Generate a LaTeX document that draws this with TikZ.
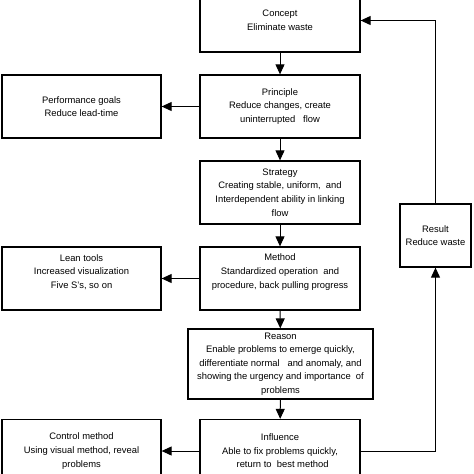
\documentclass[tikz,border=0pt]{standalone}
\usepackage{fontspec}
\setmainfont{Liberation Sans}
\usetikzlibrary{arrows.meta}
\newcommand{\fs}{\fontsize{9.4pt}{13.6pt}\selectfont}
\tikzset{
  box/.style={draw, line width=1.3pt, minimum width=160pt, minimum height=63pt, inner sep=0pt, align=center, font=\fs},
  txt/.style={inner sep=0pt, align=center, font=\fs},
  arr/.style={line width=1pt, -{Triangle[length=10pt,width=9pt]}}
}
\begin{document}
\begin{tikzpicture}[x=1pt,y=-1pt]
\useasboundingbox (0,0) rectangle (474,474);
\clip (0,0) rectangle (474,474);
\fill[white] (0,0) rectangle (474,474);
\node[box] (concept) at (280,20.5) {Concept\\Eliminate waste};
\node[box] (principle) at (280,106.5) {Principle\\Reduce changes, create\\uninterrupted\ \ \ flow};
\node[box, minimum width=159pt] (perf) at (81.5,106.5) {Performance goals\\Reduce lead-time};
\node[box] (strategy) at (280,192.5) {Strategy\\Creating stable, uniform,\ \ and\\Interdependent ability in linking\\flow};
\node[box] (method) at (280,278.5) {};
\node[txt] (methodt) at (280,272) {Method\\Standardized operation\ \ and\\procedure,\ back pulling progress};
\node[box, minimum width=159pt] (lean) at (81.5,278.5) {};
\node[txt] (leant) at (81.5,272) {Lean tools\\Increased visualization\\Five S's, so on};
\node[box, minimum width=185pt, minimum height=70pt] (reason) at (280.5,364) {Reason\\Enable problems to emerge quickly,\\differentiate normal\ \ \ and anomaly, and\\showing the urgency and importance\ \ of\\problems};
\node[box] (influence) at (280,451) {Influence\\Able to fix problems\ quickly,\\\ \ return to\ \ best method};
\node[box, minimum width=159pt] (control) at (81.5,451) {Control method\\Using visual method, reveal\\problems};
\node[box, minimum width=71pt] (result) at (435.5,235.5) {Result\\Reduce waste};
\draw[arr] (concept) -- (principle);
\draw[arr] (principle) -- (strategy);
\draw[arr] (strategy) -- (method);
\draw[arr] (method) -- (reason);
\draw[arr] (reason) -- (influence);
\draw[arr] (principle.west) -- (perf.east);
\draw[arr] (method.west) -- (lean.east);
\draw[arr] (influence.west) -- (control.east);
\draw[arr] (influence.east) -| (result.south);
\draw[arr] (result.north) |- (concept.east);
\end{tikzpicture}
\end{document}
